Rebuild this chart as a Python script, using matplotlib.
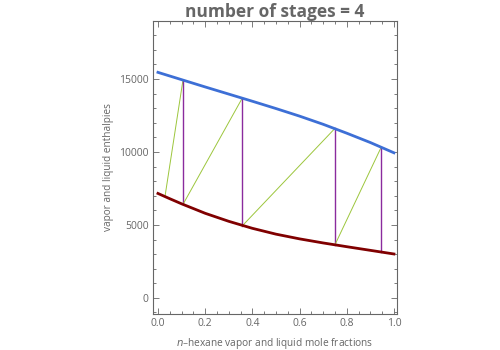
import matplotlib
matplotlib.use("Agg")
import matplotlib.pyplot as plt
from matplotlib.ticker import MultipleLocator

# enthalpy curves vs n-hexane mole fraction
x_curve = [0.0, 0.05, 0.1, 0.2, 0.3, 0.4, 0.5, 0.6, 0.7, 0.8, 0.9, 1.0]
h_vapor = [15460, 15210, 14960, 14460, 13970, 13480, 12980, 12460, 11900, 11290, 10650, 9946]
h_liquid = [7160, 6800, 6450, 5800, 5250, 4770, 4370, 4047, 3767, 3510, 3260, 3010]

# stage construction: green tie lines from liquid to vapor, purple verticals down again
x_liq_stage = [0.030, 0.106, 0.357, 0.750]
h_liq_stage = [6973, 6408, 4932, 3639]
x_vap_stage = [0.106, 0.357, 0.750, 0.946]
h_vap_stage = [14932, 13687, 11619, 10327]
h_drop_stage = [6408, 4932, 3639, 3143]

n_stages = len(x_vap_stage)

plt.rcParams['font.family'] = ['Open Sans', 'DejaVu Sans']
gray = '#666666'

fig = plt.figure(figsize=(5, 3.5), dpi=100)
ax = fig.add_axes([0.306, 0.103, 0.488, 0.837])

for xl, hl, xv, hv, hd in zip(x_liq_stage, h_liq_stage, x_vap_stage, h_vap_stage, h_drop_stage):
    ax.plot([xl, xv], [hl, hv], color='#9cc63c', lw=0.7, zorder=2)
    ax.plot([xv, xv], [hv, hd], color='#8a2b9e', lw=1.0, zorder=2)

ax.plot(x_curve, h_vapor, color='#3d6fd6', lw=2, zorder=3)
ax.plot(x_curve, h_liquid, color='#800000', lw=2, zorder=3)

ax.set_xlim(-0.021, 1.013)
ax.set_ylim(-1100, 18980)
ax.xaxis.set_major_locator(MultipleLocator(0.2))
ax.xaxis.set_minor_locator(MultipleLocator(0.05))
ax.yaxis.set_major_locator(MultipleLocator(5000))
ax.yaxis.set_minor_locator(MultipleLocator(1000))
ax.xaxis.set_major_formatter(matplotlib.ticker.FormatStrFormatter('%.1f'))

for s in ax.spines.values():
    s.set_color(gray)
    s.set_linewidth(0.8)
ax.tick_params(which='both', direction='in', top=True, right=True,
               colors=gray, labelsize=7.5, labelcolor=gray, width=0.6)
ax.tick_params(which='major', length=4, pad=3)
ax.tick_params(which='minor', length=2)

ax.set_xlabel(r'$\it{n}$' + '\u2013hexane vapor and liquid mole fractions',
              fontsize=7.3, color=gray, labelpad=5)
ax.set_ylabel('vapor and liquid enthalpies', fontsize=7.2, color=gray, labelpad=4)
ax.set_title('number of stages = %d' % n_stages, fontsize=12.5, fontweight='bold',
             color=gray, pad=3)

fig.savefig('out.png', dpi=100)
